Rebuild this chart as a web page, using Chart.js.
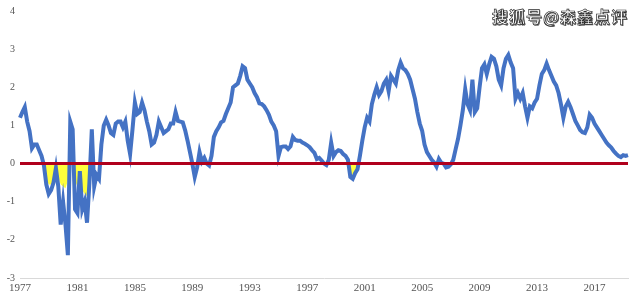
<!DOCTYPE html>
<html>
<head>
<meta charset="utf-8">
<script src="https://cdn.jsdelivr.net/npm/chart.js@4/dist/chart.umd.min.js"></script>
<style>
    html, body { margin: 0; padding: 0; background: #ffffff; }
    #wrap { position: relative; width: 633px; height: 295px; }
    #mark {
        position: absolute; left: 492px; top: 4px;
        font-family: "Noto Sans CJK SC", sans-serif; font-weight: bold; font-size: 16px;
        color: #ffffff; letter-spacing: 1px;
        -webkit-text-stroke: 0.7px #2a2a2a;
        text-shadow: 1px 1px 0 #666;
    }
</style>
</head>
<body>
<div id="wrap">
    <canvas id="chart" width="633" height="295"></canvas>
    <div id="mark">搜狐号@森鑫点评</div>
</div>
<script>
// ============= DATA =============
const startYear = 1977;
const months = [1, 3, 5, 7, 9, 11];   // one reading every two months
const yTicks = [-3, -2, -1, 0, 1, 2, 3, 4];

// values, one row per year
const values = [
    1.20, 1.35, 1.48, 1.10, 0.85, 0.40,      // 1977
    0.50, 0.50, 0.35, 0.20, -0.05, -0.55,    // 1978
    -0.80, -0.70, -0.50, -0.12, -0.60, -1.60, // 1979
    -1.00, -1.60, -2.40, 1.10, 0.90, -1.20,  // 1980
    -1.30, -0.20, -1.20, -1.00, -1.55, -0.50, // 1981
    0.90, -0.60, -0.30, -0.40, 0.50, 1.00,   // 1982
    1.15, 1.00, 0.80, 0.75, 1.05, 1.10,      // 1983
    1.10, 0.95, 1.10, 0.60, 0.25, 0.90,      // 1984
    1.60, 1.30, 1.35, 1.60, 1.40, 1.10,      // 1985
    0.85, 0.50, 0.55, 0.75, 1.10, 0.95,      // 1986
    0.80, 0.85, 0.90, 1.05, 1.05, 1.35,      // 1987
    1.12, 1.10, 1.08, 0.87, 0.60, 0.30,      // 1988
    0.00, -0.35, -0.10, 0.30, 0.05, 0.15,    // 1989
    0.00, -0.05, 0.20, 0.70, 0.85, 0.95,     // 1990
    1.08, 1.12, 1.30, 1.45, 1.60, 2.00,      // 1991
    2.05, 2.10, 2.30, 2.55, 2.50, 2.20,      // 1992
    2.10, 2.00, 1.85, 1.74, 1.58, 1.56,      // 1993
    1.50, 1.40, 1.28, 1.10, 1.00, 0.85,      // 1994
    0.20, 0.43, 0.45, 0.45, 0.38, 0.45,      // 1995
    0.70, 0.62, 0.60, 0.60, 0.55, 0.52,      // 1996
    0.48, 0.43, 0.35, 0.28, 0.12, 0.15,      // 1997
    0.08, 0.00, -0.04, 0.10, 0.55, 0.20,     // 1998
    0.30, 0.35, 0.33, 0.25, 0.20, 0.10,      // 1999
    -0.35, -0.40, -0.25, -0.15, 0.20, 0.60,  // 2000
    0.95, 1.20, 1.10, 1.56, 1.80, 2.00,      // 2001
    1.80, 1.90, 2.10, 2.20, 1.90, 2.30,      // 2002
    2.20, 2.10, 2.45, 2.65, 2.50, 2.45,      // 2003
    2.35, 2.20, 1.95, 1.70, 1.35, 1.05,      // 2004
    0.86, 0.50, 0.30, 0.20, 0.10, 0.03,      // 2005
    -0.08, 0.12, 0.02, 0.00, -0.10, -0.08,   // 2006
    -0.02, 0.10, 0.38, 0.65, 1.00, 1.40,     // 2007
    1.95, 1.55, 1.40, 2.20, 1.35, 1.45,      // 2008
    2.00, 2.50, 2.60, 2.35, 2.60, 2.80,      // 2009
    2.75, 2.55, 2.20, 2.05, 2.50, 2.75,      // 2010
    2.85, 2.65, 2.50, 1.70, 1.85, 1.70,      // 2011
    1.85, 1.50, 1.20, 1.50, 1.45, 1.60,      // 2012
    1.70, 2.05, 2.35, 2.45, 2.62, 2.45,      // 2013
    2.30, 2.15, 2.05, 1.85, 1.55, 1.20,      // 2014
    1.50, 1.62, 1.48, 1.30, 1.12, 1.00,      // 2015
    0.88, 0.82, 0.80, 0.95, 1.28, 1.20,      // 2016
    1.05, 0.95, 0.85, 0.75, 0.65, 0.55,      // 2017
    0.48, 0.42, 0.33, 0.26, 0.20, 0.17,      // 2018
    0.22, 0.20, 0.22                         // 2019
];

// yellow shaded stretches below zero
const shade1Start = '1978-09';
const shade1 = [0, -0.40, -0.55, -0.55, -0.45, -0.10, -0.35, -0.55, -0.60, -0.65, -0.45, 0];
const shade2Start = '1980-09';
const shade2 = [0, -0.45, -0.60, -0.35, -0.70, -0.80, -0.85, -0.45, 0];
const shade3Start = '1999-11';
const shade3 = [0, -0.25, -0.30, -0.20, -0.10, 0];

// ============= LABELS =============
const labels = values.map((v, i) => {
    const year = startYear + Math.floor(i / months.length);
    const m = months[i % months.length];
    return `${year}-${String(m).padStart(2, '0')}`;
});

function shadePoints(start, arr) {
    const idx = labels.indexOf(start);
    return arr.map((v, k) => ({ x: labels[idx + k], y: v }));
}

const serif = "'Liberation Serif', 'DejaVu Serif', serif";

// ============= CHART =============
new Chart(document.getElementById('chart'), {
    type: 'line',
    data: {
        labels: labels,
        datasets: [
            {
                label: 'zero',
                data: labels.map(() => 0),
                borderColor: '#b0001c',
                borderWidth: 3,
                pointRadius: 0,
                order: 0
            },
            {
                label: 'series',
                data: values,
                borderColor: '#4472c4',
                borderWidth: 4,
                pointRadius: 0,
                tension: 0,
                order: 1
            },
            ...[[shade1Start, shade1], [shade2Start, shade2], [shade3Start, shade3]].map(([s, arr]) => ({
                label: 'shade',
                data: shadePoints(s, arr),
                borderWidth: 0,
                borderColor: 'rgba(0,0,0,0)',
                backgroundColor: '#ffff3c',
                fill: 'origin',
                pointRadius: 0,
                order: 2
            }))
        ]
    },
    options: {
        responsive: false,
        animation: false,
        devicePixelRatio: 1,
        layout: { padding: { top: 10, right: 5, left: 0, bottom: 0 } },
        plugins: {
            legend: { display: false },
            tooltip: { enabled: false }
        },
        scales: {
            x: {
                type: 'category',
                grid: { display: false, drawTicks: false },
                border: { display: true, color: '#d9d9d9', width: 1 },
                afterFit: (scale) => { scale.height = 17; },
                ticks: {
                    autoSkip: false,
                    maxRotation: 0,
                    padding: 4,
                    color: '#555555',
                    font: { family: serif, size: 11 },
                    callback: function (value) {
                        const lab = this.getLabelForValue(value);
                        const year = parseInt(lab.slice(0, 4), 10);
                        if (lab.endsWith('-01') && (year - startYear) % 4 === 0) return String(year);
                        return null;
                    }
                }
            },
            y: {
                min: yTicks[0],
                max: yTicks[yTicks.length - 1],
                grid: { display: false, drawTicks: false },
                border: { display: false },
                afterFit: (scale) => { scale.width = 20; },
                afterBuildTicks: (scale) => { scale.ticks = yTicks.map(v => ({ value: v })); },
                ticks: {
                    padding: 5,
                    color: '#555555',
                    font: { family: serif, size: 10 }
                }
            }
        }
    }
});
</script>
</body>
</html>
